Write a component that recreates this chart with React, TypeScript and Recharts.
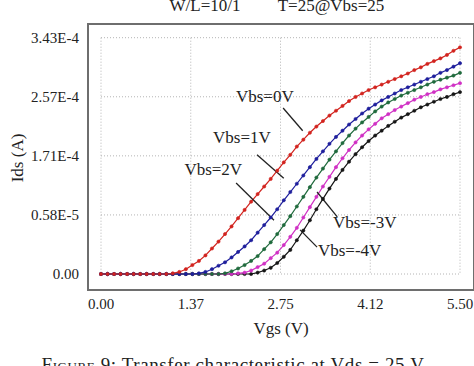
import React from 'react';
import { LineChart, Line, XAxis, YAxis, CartesianGrid, ReferenceLine, ReferenceDot } from 'recharts';

// Vgs (V) sample points
const vgs = [
  0.0, 0.1, 0.2, 0.3, 0.4, 0.5, 0.6, 0.7, 0.8, 0.9,
  1.0, 1.1, 1.2, 1.3, 1.4, 1.5, 1.6, 1.7, 1.8, 1.9,
  2.0, 2.1, 2.2, 2.3, 2.4, 2.5, 2.6, 2.7, 2.8, 2.9,
  3.0, 3.1, 3.2, 3.3, 3.4, 3.5, 3.6, 3.7, 3.8, 3.9,
  4.0, 4.1, 4.2, 4.3, 4.4, 4.5, 4.6, 4.7, 4.8, 4.9,
  5.0, 5.1, 5.2, 5.3, 5.4, 5.5,
];

// Ids in units of 1e-4 A
const vbs0 = [
  0, 0, 0, 0, 0, 0, 0, 0, 0, 0,
  0, 0.01, 0.03, 0.07, 0.13, 0.19, 0.27, 0.37, 0.47, 0.58,
  0.69, 0.81, 0.93, 1.05, 1.16, 1.27, 1.38, 1.50, 1.62, 1.73,
  1.85, 1.95, 2.05, 2.14, 2.22, 2.30, 2.37, 2.44, 2.51, 2.57,
  2.62, 2.67, 2.71, 2.75, 2.79, 2.83, 2.87, 2.91, 2.96, 3.00,
  3.05, 3.09, 3.13, 3.18, 3.24, 3.29,
];
const vbs1 = [
  0, 0, 0, 0, 0, 0, 0, 0, 0, 0,
  0, 0, 0, 0, 0, 0.01, 0.03, 0.07, 0.12, 0.17,
  0.24, 0.32, 0.40, 0.49, 0.60, 0.71, 0.82, 0.94, 1.07, 1.19,
  1.31, 1.43, 1.55, 1.67, 1.78, 1.89, 1.99, 2.08, 2.17, 2.25,
  2.33, 2.40, 2.46, 2.52, 2.57, 2.62, 2.67, 2.71, 2.75, 2.79,
  2.83, 2.87, 2.92, 2.96, 3.01, 3.06,
];
const vbs2 = [
  0, 0, 0, 0, 0, 0, 0, 0, 0, 0,
  0, 0, 0, 0, 0, 0, 0, 0, 0, 0.01,
  0.04, 0.08, 0.13, 0.19, 0.26, 0.36, 0.46, 0.58, 0.71, 0.84,
  0.98, 1.12, 1.26, 1.40, 1.53, 1.66, 1.78, 1.90, 2.01, 2.11,
  2.20, 2.28, 2.36, 2.43, 2.49, 2.54, 2.59, 2.63, 2.67, 2.71,
  2.75, 2.79, 2.82, 2.85, 2.88, 2.92,
];
const vbsM3 = [
  0, 0, 0, 0, 0, 0, 0, 0, 0, 0,
  0, 0, 0, 0, 0, 0, 0, 0, 0, 0,
  0, 0.01, 0.02, 0.05, 0.10, 0.15, 0.23, 0.31, 0.42, 0.54,
  0.67, 0.82, 0.97, 1.12, 1.27, 1.41, 1.55, 1.68, 1.80, 1.91,
  2.01, 2.10, 2.18, 2.26, 2.32, 2.38, 2.43, 2.48, 2.53, 2.57,
  2.61, 2.64, 2.68, 2.71, 2.74, 2.77,
];
const vbsM4 = [
  0, 0, 0, 0, 0, 0, 0, 0, 0, 0,
  0, 0, 0, 0, 0, 0, 0, 0, 0, 0,
  0, 0, 0, 0, 0.02, 0.05, 0.09, 0.16, 0.25, 0.35,
  0.49, 0.63, 0.78, 0.94, 1.09, 1.24, 1.38, 1.51, 1.63, 1.74,
  1.84, 1.93, 2.01, 2.08, 2.15, 2.21, 2.27, 2.32, 2.37, 2.42,
  2.46, 2.50, 2.54, 2.57, 2.61, 2.64,
];

const xTicks = [0, 1.375, 2.75, 4.125, 5.5];
const xTickLabels = ['0.00', '1.37', '2.75', '4.12', '5.50'];
const yTicks = [0, 0.8575, 1.715, 2.5725, 3.43];
const yTickLabels = ['0.00', '0.58E-5', '1.71E-4', '2.57E-4', '3.43E-4'];

const seriesNames = ['Vbs=-4V', 'Vbs=-3V', 'Vbs=2V', 'Vbs=1V', 'Vbs=0V'];
const seriesKeys = ['m4', 'm3', 'p2', 'p1', 'p0'];
const seriesColors = ['#151515', '#d030c4', '#1f6a3c', '#1e1e9c', '#d2231e'];

// annotation labels: [text, vgs, ids] and leader segments
const annoTexts = ['Vbs=0V', 'Vbs=1V', 'Vbs=2V', 'Vbs=-3V', 'Vbs=-4V'];
const annoX = [2.51, 2.16, 1.72, 4.04, 3.81];
const annoY = [2.58, 1.99, 1.52, 0.75, 0.35];
const leaderX1 = [2.79, 2.39, 2.07, 3.31, 3.05];
const leaderY1 = [2.41, 1.73, 1.32, 1.19, 0.64];
const leaderX2 = [3.09, 2.80, 2.65, 3.62, 3.31];
const leaderY2 = [2.08, 1.39, 0.78, 0.83, 0.39];

const data = vgs.map((v, i) => ({
  v,
  p0: vbs0[i],
  p1: vbs1[i],
  p2: vbs2[i],
  m3: vbsM3[i],
  m4: vbsM4[i],
}));

const FONT = '"Liberation Serif", "Times New Roman", serif';

const XTick = (props: any) => {
  const { x, y, payload } = props;
  return (
    <text x={x} y={y} dy={35} textAnchor="middle" fontFamily={FONT} fontSize={15} fill="#222">
      {xTickLabels[xTicks.indexOf(payload.value)] ?? ''}
    </text>
  );
};

const YTick = (props: any) => {
  const { x, y, payload } = props;
  return (
    <text x={x} y={y} dy={5} textAnchor="end" fontFamily={FONT} fontSize={15} fill="#222">
      {yTickLabels[yTicks.indexOf(payload.value)] ?? ''}
    </text>
  );
};

export default function App() {
  return (
    <div style={{ position: 'absolute', left: 0, top: 0, width: 474, height: 366, background: '#fff', overflow: 'hidden' }}>
      <div
        style={{
          position: 'absolute',
          left: 87,
          top: 23,
          width: 384,
          height: 264,
          border: '2px solid #6e6e6e',
        }}
      />
      <div style={{ position: 'absolute', left: 0, top: 0 }}>
        <LineChart
          width={474}
          height={366}
          data={data}
          margin={{ top: 37.7, right: 14, bottom: 62, left: 0 }}
        >
          <CartesianGrid stroke="#b4b4b4" strokeDasharray="1 2" />
          <XAxis
            type="number"
            dataKey="v"
            domain={[0, 5.5]}
            ticks={xTicks}
            axisLine={false}
            tickLine={false}
            tickSize={0}
            tickMargin={0}
            height={30}
            tick={<XTick />}
            interval={0}
          />
          <YAxis
            type="number"
            domain={[0, 3.43]}
            ticks={yTicks}
            axisLine={false}
            tickLine={false}
            tickSize={0}
            tickMargin={22}
            width={101}
            tick={<YTick />}
            interval={0}
          />
          {seriesKeys.map((k, i) => (
            <Line
              key={k}
              name={seriesNames[i]}
              dataKey={k}
              type="linear"
              stroke={seriesColors[i]}
              strokeWidth={1.2}
              dot={{ r: 1.6, fill: seriesColors[i], stroke: seriesColors[i], strokeWidth: 0.6 }}
              isAnimationActive={false}
            />
          ))}
          {annoTexts.map((t, i) => (
            <ReferenceLine
              key={'l' + i}
              segment={[
                { x: leaderX1[i], y: leaderY1[i] },
                { x: leaderX2[i], y: leaderY2[i] },
              ]}
              stroke="#222"
              strokeWidth={1.3}
              ifOverflow="visible"
            />
          ))}
          {annoTexts.map((t, i) => (
            <ReferenceDot
              key={'t' + i}
              x={annoX[i]}
              y={annoY[i]}
              r={0}
              fill="none"
              stroke="none"
              ifOverflow="visible"
              label={(p: any) => {
                const vb = p.viewBox || {};
                const cx = (vb.x ?? 0) + (vb.width ?? 0) / 2;
                const cy = (vb.y ?? 0) + (vb.height ?? 0) / 2;
                return (
                  <text x={cx} y={cy} dy={6} textAnchor="middle" fontFamily={FONT} fontSize={17} fill="#222">
                    {t}
                  </text>
                );
              }}
            />
          ))}
        </LineChart>
      </div>
      <svg width={474} height={366} style={{ position: 'absolute', left: 0, top: 0, pointerEvents: 'none' }}>
        <text x={205} y={11} textAnchor="middle" fontFamily={FONT} fontSize={17} fill="#222">W/L=10/1</text>
        <text x={331} y={11} textAnchor="middle" fontFamily={FONT} fontSize={17} fill="#222">T=25@Vbs=25</text>
        <text x={281} y={334} textAnchor="middle" fontFamily={FONT} fontSize={17} fill="#222">Vgs (V)</text>
        <text
          x={0}
          y={0}
          transform="translate(23,158) rotate(-90)"
          textAnchor="middle"
          fontFamily={FONT}
          fontSize={17}
          fill="#222"
        >
          Ids (A)
        </text>
        <text x={233} y={371} textAnchor="middle" fontFamily={FONT} fontSize={19} letterSpacing={0.6} fill="#222">
          <tspan style={{ fontVariant: 'small-caps' }}>Figure</tspan> 9: Transfer characteristic at Vds = 25 V
        </text>
      </svg>
    </div>
  );
}
